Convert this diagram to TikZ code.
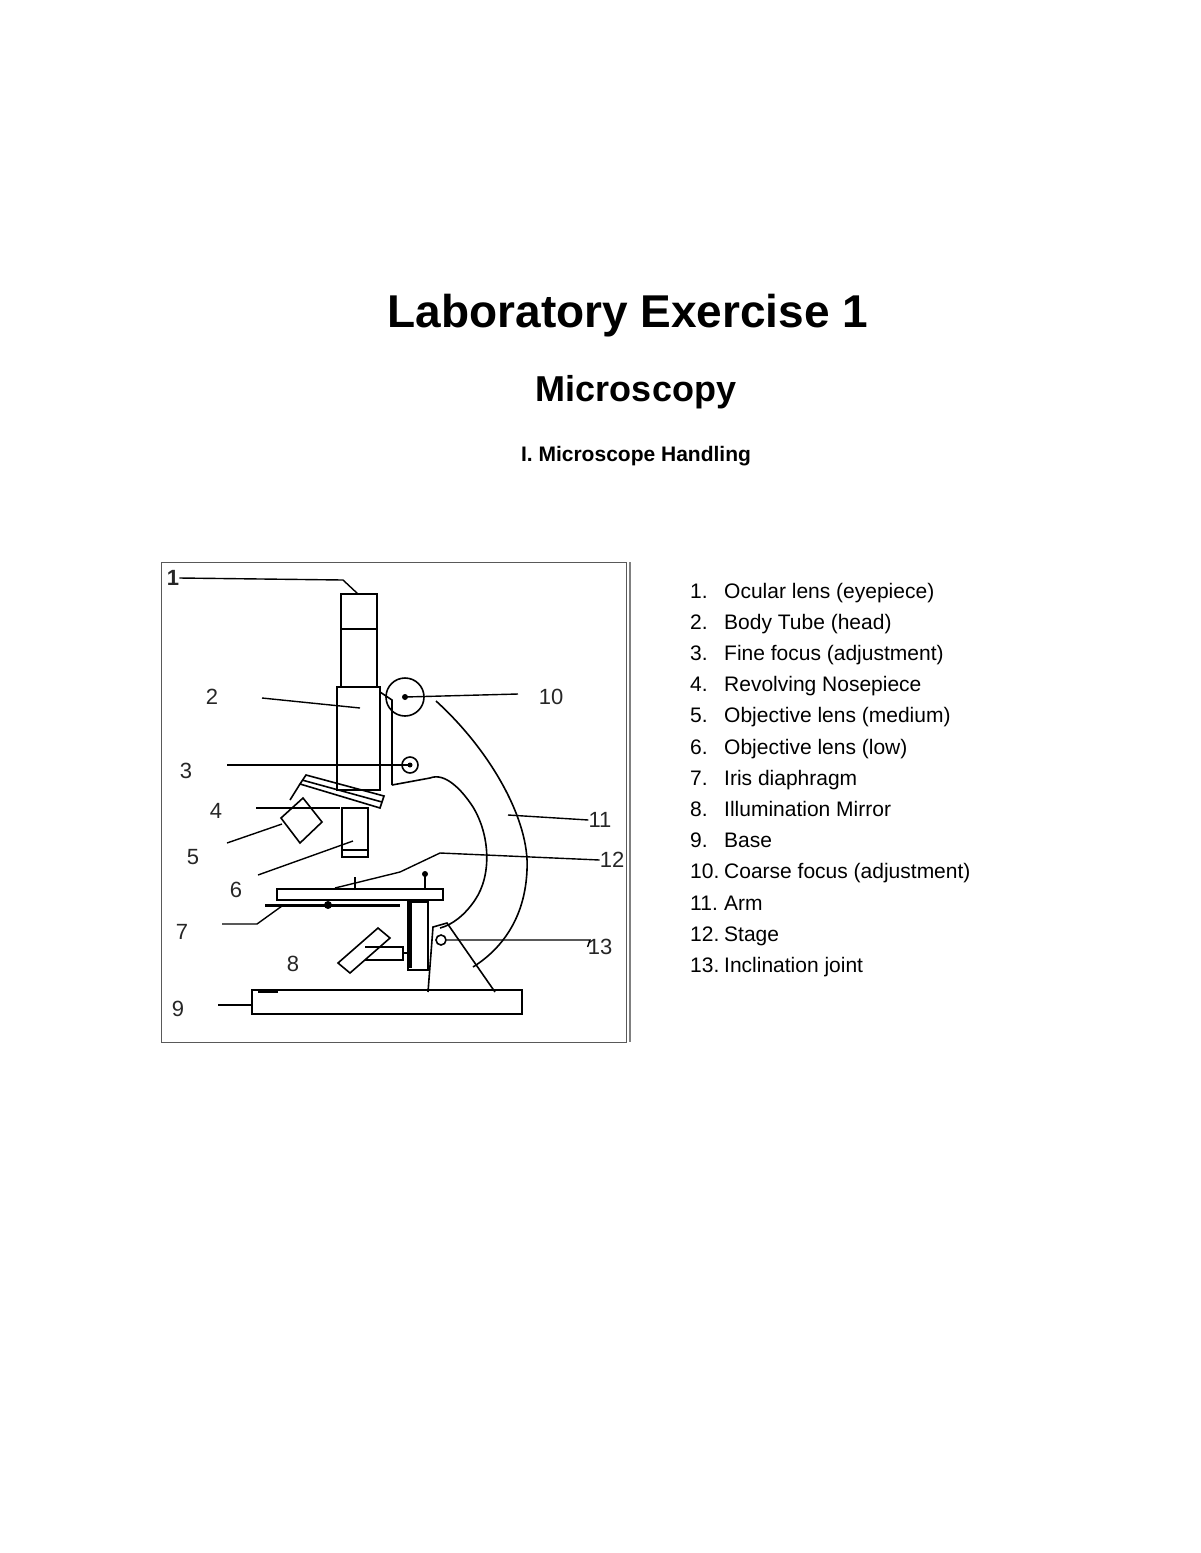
\documentclass[tikz,border=0pt]{standalone}
\usepackage{fontspec}
\setmainfont{Liberation Sans}
\begin{document}
\begin{tikzpicture}[x=1pt,y=-1pt,
  lab/.style={font=\fontsize{22}{24}\selectfont, inner sep=0, text=black!85},
  li/.style={font=\fontsize{21}{24}\selectfont, anchor=base west, inner sep=0},
  part/.style={line width=1.6pt},
  ld/.style={line width=1.4pt}]
\useasboundingbox (0,0) rectangle (1200,1553);
\node[font=\fontsize{46}{50}\selectfont\bfseries] (t1) at (628,316) {Laboratory Exercise 1};
\node[font=\fontsize{36}{40}\selectfont\bfseries] (t2) at (636,392) {Microscopy};
\node[font=\fontsize{21}{24}\selectfont\bfseries] (t3) at (636,456) {I. Microscope Handling};
% frame
\draw[line width=1pt,gray!70!black] (161,562) rectangle (626,1042);
\draw[line width=1.5pt,gray] (630,562) -- (630,1042);
% eyepiece and tube
\draw[part] (341,686) -- (341,594) -- (377,594) -- (377,686);
\draw[part] (341,629) -- (377,629);
\draw[line width=2.5pt] (337,687) -- (381,687);
\draw[part] (337,687) rectangle (380,790);
\draw[part] (380,692) -- (392,700) -- (392,785);
% knobs
\node[draw,part,circle,minimum size=38pt,inner sep=0] (k10) at (405,697) {};
\fill (405,697) circle (3);
\node[draw,part,circle,minimum size=16pt,inner sep=0] (k3) at (410,765) {};
\fill (410,765) circle (2.5);
% arm
\draw[part] (436,701) .. controls (490,750) and (530,820) .. (527,870) .. controls (525,920) and (500,950) .. (473,967);
\draw[part] (392,785) -- (430,778) .. controls (445,772) and (462,790) .. (473,807) .. controls (490,835) and (492,875) .. (475,900) .. controls (465,915) and (452,925) .. (440,928);
% pivot
\draw[part] (428,992) -- (433,927) -- (447,923) -- (495,992);
% nosepiece
\draw[part] (300,784) -- (306,775) -- (384,796) -- (380,808) -- cycle;
\draw[part] (302,780) -- (382,802);
\draw[part] (300,784) -- (290,800);
% objectives
\draw[part] (342,808) rectangle (368,857);
\draw[part] (342,850) -- (368,850);
\draw[part] (281,818) -- (303,798) -- (322,822) -- (300,843) -- cycle;
% stage
\draw[part] (277,889) rectangle (443,900);
\draw[line width=3pt] (265,905) -- (400,905);
\fill (328,905) circle (4);
\draw[part] (355,890) -- (355,877);
\draw[part] (425,889) -- (425,875);
\fill (425,874) circle (3);
% stage support
\draw[part] (408,902) rectangle (428,970);
\draw[line width=3pt] (410,902) -- (410,968);
% mirror
\draw[part] (338,963) -- (378,928) -- (390,938) -- (350,973) -- cycle;
\draw[part] (365,947) -- (403,947) -- (403,960) -- (365,960);
\draw[part] (403,953) -- (408,953);
% base
\draw[part] (252,990) rectangle (522,1014);
\draw[line width=3pt] (258,991) -- (278,991);
% leader lines and labels
\node[lab,font=\fontsize{22}{24}\selectfont\bfseries] (n1) at (173,578) {1};
\coordinate (e1) at (358,594);
\draw[ld] (n1.east) -- (343,580) -- (e1);
\node[lab] (n2) at (212,697) {2};
\coordinate (e2) at (360,708);
\draw[ld] (262,698) -- (e2);
\node[lab] (n3) at (186,771) {3};
\draw[ld] (227,765) -- (k3.center);
\node[lab] (n4) at (216,811) {4};
\draw[ld] (256,808) -- (340,808);
\node[lab] (n5) at (193,857) {5};
\draw[ld] (227,843) -- (282,824);
\node[lab] (n6) at (236,890) {6};
\draw[ld] (258,875) -- (353,841);
\node[lab] (n7) at (182,932) {7};
\draw[ld] (222,924) -- (257,924) -- (282,906);
\node[lab] (n8) at (293,964) {8};
\node[lab] (n9) at (178,1009) {9};
\draw[ld] (218,1005) -- (252,1005);
\node[lab] (n10) at (551,697) {10};
\draw[ld] (k10.center) -- (518,694);
\node[lab] (n11) at (600,820) {11};
\draw[ld] (508,815) -- (n11.west);
\node[lab] (n12) at (612,860) {12};
\draw[ld] (n12.west) -- (440,853) -- (400,872) -- (335,888);
\node[lab] (n13) at (600,947) {13};
\node[draw,part,circle,minimum size=10pt,inner sep=0] (k13) at (441,940) {};
\draw[ld] (k13.east) -- (590,940) -- (n13.west);
% list
\foreach \n/\t [count=\i from 0] in {1./Ocular lens (eyepiece),2./Body Tube (head),3./Fine focus (adjustment),4./Revolving Nosepiece,5./Objective lens (medium),6./Objective lens (low),7./Iris diaphragm,8./Illumination Mirror,9./Base,10./Coarse focus (adjustment),11./Arm,12./Stage,13./Inclination joint}{
  \node[li] (num\i) at (690,598+31.2*\i) {\n};
  \node[li] (txt\i) at (724,598+31.2*\i) {\t};
}
\end{tikzpicture}
\end{document}
